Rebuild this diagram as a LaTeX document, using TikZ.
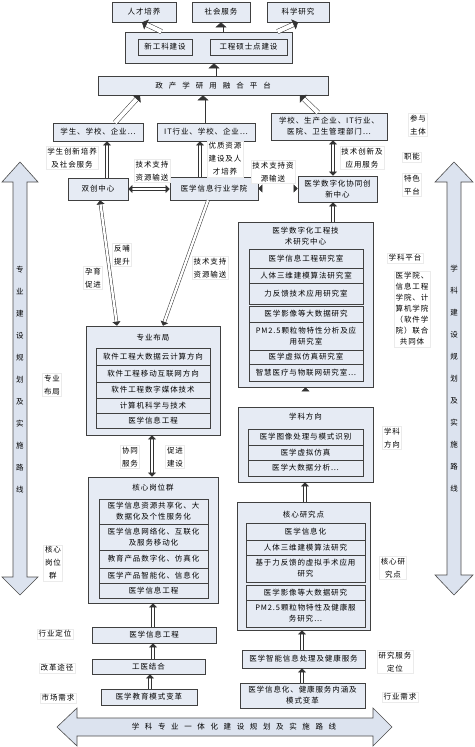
\documentclass[tikz,border=0pt]{standalone}
\usepackage{fontspec}
\setmainfont{Noto Sans CJK SC}[LetterSpace=12]
\usetikzlibrary{arrows.meta}

\definecolor{boxfill}{HTML}{E6EBF4}
\definecolor{arrowfill}{HTML}{DCE3EF}

\begin{document}
\begin{tikzpicture}
[x=1pt,y=-1pt,
  box/.style={draw=black!75,fill=boxfill,line width=0.7pt,inner sep=0pt,align=center},%
  rowbox/.style={draw=black!75,fill=boxfill,line width=0.5pt,inner sep=0pt,align=center,minimum width=#1},%
  lbl/.style={draw=black!8,fill=white,inner sep=1.5pt,align=center,font=\fontsize{7.5}{13}\selectfont},%
  hollow/.style={draw=black!80,line width=0.5pt,double=white,double distance=2.4pt,-{Triangle[length=4pt,width=8pt]}},%
  dhollow/.style={hollow,{Triangle[length=4pt,width=8pt]}-{Triangle[length=4pt,width=8pt]}},%
  bighollow/.style={hollow,double distance=4pt,-{Triangle[length=5pt,width=11pt]}},%
  bigarrow/.style={draw=black!70,fill=arrowfill,line width=0.6pt}]
\fontsize{7.5}{11}\selectfont
\useasboundingbox (0,0) rectangle (474,747);

%% big arrows (planning routes)
\draw[bigarrow] (20,162) -- (38,182) -- (27,182) -- (27,577) -- (38,577) -- (20,595)
  -- (2,577) -- (13,577) -- (13,182) -- (2,182) -- cycle;
\draw[bigarrow] (454,162) -- (473,182) -- (461,182) -- (461,575) -- (473,575) -- (454,595)
  -- (435,575) -- (447,575) -- (447,182) -- (435,182) -- cycle;
\draw[bigarrow] (57,727) -- (77,708) -- (77,718) -- (373,718) -- (373,708) -- (392,727)
  -- (373,746) -- (373,736) -- (77,736) -- (77,746) -- cycle;
\node[align=center,font=\fontsize{7.5}{22}\selectfont] (zyroute) at (20,380)
  {专\\业\\建\\设\\规\\划\\及\\实\\施\\路\\线};
\node[align=center,font=\fontsize{7.5}{22}\selectfont] (xkroute) at (454,379)
  {学\\科\\建\\设\\规\\划\\及\\实\\施\\路\\线};
\node (yitiroute) at (234,727) {\addfontfeature{LetterSpace=75}学科专业一体化建设规划及实施路线};

%% top: goals and platform
\node[box,minimum width=64,minimum height=20] (rc) at (144,12) {人才培养};
\node[box,minimum width=58,minimum height=20] (sf) at (221,12) {社会服务};
\node[box,minimum width=62,minimum height=20] (ky) at (298,12) {科学研究};
\node[box,minimum width=167,minimum height=31] (js) at (208.5,47.5) {};
\node[box,minimum width=54,minimum height=16] (xgk) at (165,47) {新工科建设};
\node[box,minimum width=77,minimum height=16] (gcs) at (248.5,47) {工程硕士点建设};
\node[box,minimum width=230,minimum height=19] (plat) at (213,85.5)
  {\addfontfeature{LetterSpace=80}政产学研用融合平台};

%% participants
\node[box,minimum width=90,minimum height=18] (p1) at (98,132) {学生、学校、企业…};
\node[box,minimum width=98,minimum height=18] (p2) at (206,132) {IT行业、学校、企业…};
\node[box,minimum width=116,minimum height=27] (p3) at (329,126.5)
  {学校、生产企业、IT行业、\\医院、卫生管理部门…};

%% centres
\node[box,minimum width=60,minimum height=22] (sc) at (98,189) {双创中心};
\node[box,minimum width=88,minimum height=23] (hy) at (214,188.5) {医学信息行业学院};
\node[box,minimum width=79,minimum height=26] (xt) at (337.5,189) {医学数字化协同创\\新中心};

%% specialty layout
\node[box,minimum width=134,minimum height=109] (zy) at (153,380.5) {};
\node (zyt) at (153,338) {专业布局};
\foreach \n/\y/\h/\txt in {1/356.5/17/软件工程大数据云计算方向, 2/373.5/17/软件工程移动互联网方向,
  3/390/16/软件工程数字媒体技术, 4/405.5/15/计算机科学与技术, 5/420.5/15/医学信息工程}
{
  \node[rowbox=114,minimum height=\h] (zy\n) at (153,\y) {\txt};
}

%% core posts
\node[box,minimum width=130,minimum height=126] (gw) at (153,540) {};
\node (gwt) at (153,488) {核心岗位群};
\foreach \n/\y/\h/\txt in {1/511.5/25/{医学信息资源共享化、大\\数据化及个性服务化},
  2/537/26/{医学信息网络化、互联化\\及服务移动化}, 3/559/18/教育产品数字化、仿真化,
  4/575.5/15/医学产品智能化、信息化, 5/590.5/15/医学信息工程}
{
  \node[rowbox=109,minimum height=\h] (gw\n) at (153.5,\y) {\txt};
}

%% bottom left
\node[box,minimum width=124,minimum height=16] (b1) at (154,635) {医学信息工程};
\node[box,minimum width=113,minimum height=15] (b2) at (148.5,666.5) {工医结合};
\node[box,minimum width=96,minimum height=16] (b3) at (149,697) {医学教育模式变革};

%% research centre
\node[box,minimum width=135,minimum height=165] (yj) at (305.5,304.5) {};
\node[align=center] (yjt) at (305.5,236) {医学数字化工程技\\术研究中心};
\foreach \n/\y/\h/\txt in {1/258.5/19/医学信息工程研究室, 2/275.5/15/人体三维建模算法研究室,
  3/293.5/21/力反馈技术应用研究室, 4/314/16/医学影像等大数据研究,
  5/336/28/{PM2.5颗粒物特性分析及应\\用研究室}, 6/357/14/医学虚拟仿真研究室,
  7/372.5/17/智慧医疗与物联网研究室…}
{
  \node[rowbox=114,minimum height=\h] (yj\n) at (306,\y) {\txt};
}

%% discipline directions
\node[box,minimum width=135,minimum height=75] (fx) at (305.5,444.5) {};
\node (fxt) at (305.5,417) {学科方向};
\foreach \n/\y/\h/\txt in {1/437/16/医学图像处理与模式识别, 2/452.5/15/医学虚拟仿真, 3/468/16/医学大数据分析…}
{
  \node[rowbox=115,minimum height=\h] (fx\n) at (305.5,\y) {\txt};
}

%% core research points
\node[box,minimum width=133,minimum height=128] (yd) at (303.5,566) {};
\node (ydt) at (303.5,515) {核心研究点};
\foreach \n/\y/\h/\txt in {1/531.5/17/医学信息化, 2/547.5/15/人体三维建模算法研究,
  3/568.5/27/{基于力反馈的虚拟手术应用\\研究}, 4/592.5/15/医学影像等大数据研究,
  5/613.5/27/{PM2.5颗粒物特性及健康服\\务研究…}}
{
  \node[rowbox=119,minimum height=\h] (yd\n) at (305.5,\y) {\txt};
}

%% bottom right
\node[box,minimum width=123,minimum height=18] (zn) at (303.5,659) {医学智能信息处理及健康服务};
\node[box,minimum width=125,minimum height=25] (ms) at (302.5,695.5) {医学信息化、健康服务内涵及\\模式变革};

%% side labels
\node[lbl] (l1) at (72,158) {学生创新培养\\及社会服务};
\node[lbl] (l2) at (152,171) {技术支持\\资源输送};
\node[lbl] (l3) at (225,159) {优质资源\\建设及人\\才培养};
\node[lbl] (l4) at (273,172) {技术支持资\\源输送};
\node[lbl] (l5) at (362,158) {技术创新及\\应用服务};
\node[lbl] (l6) at (418,125) {参与\\主体};
\node[lbl] (l7) at (412,157) {职能};
\node[lbl] (l8) at (412,185) {特色\\平台};
\node[lbl] (l9) at (122,255) {反哺\\提升};
\node[lbl] (l10) at (93,278) {孕育\\促进};
\node[lbl] (l11) at (210,268) {技术支持\\资源输送};
\node[lbl] (l12) at (52,385) {专业\\布局};
\node[lbl] (l13) at (130,457) {协同\\服务};
\node[lbl] (l14) at (175,457) {促进\\建设};
\node[lbl] (l15) at (53,563) {核心\\岗位\\群};
\node[lbl] (l16) at (55,634) {行业定位};
\node[lbl] (l17) at (57,668) {改革途径};
\node[lbl] (l18) at (58,698) {市场需求};
\node[lbl] (l19) at (405,258) {学科平台};
\node[lbl,font=\fontsize{7.5}{11}\selectfont] (l20) at (412,309)
  {医学院、\\信息工程\\学院、计\\算机学院\\（软件学\\院）联合\\共同体};
\node[lbl] (l21) at (392,438) {学科\\方向};
\node[lbl] (l22) at (393,568) {核心研\\究点};
\node[lbl] (l23) at (395,662) {研究服务\\定位};
\node[lbl] (l24) at (400,697) {行业需求};

%% connectors
\draw[bighollow] ([xshift=-47]js.north) -- ([xshift=-2]rc.south);
\draw[bighollow] (sf.south |- js.north) -- (sf.south);
\draw[bighollow] ([xshift=69]js.north) -- (ky.south);
\draw[bighollow] ([xshift=1]plat.north) -- ([xshift=1]plat.north |- js.south);
\draw[bighollow] ([xshift=17]p1.north) -- ([xshift=-73]plat.south);
\draw[bighollow] ([xshift=-3]p2.north) -- ([xshift=-3]p2.north |- plat.south);
\draw[bighollow] ([xshift=-11]p3.north) -- ([xshift=87]plat.south);
\draw[hollow] ([xshift=9]sc.north) -- ([xshift=9]sc.north |- p1.south);
\draw[hollow] ([xshift=-14]hy.north) -- ([xshift=-14]hy.north |- p2.south);
\draw[dhollow] (sc.east) -- (sc.east -| hy.west);
\draw[dhollow] (hy.east) -- (hy.east -| xt.west);
\draw[dhollow] ([xshift=-4.5]xt.north) -- ([xshift=-4.5]xt.north |- p3.south);
\draw[hollow] ([xshift=27.5]yj.north) -- ([xshift=27.5]yj.north |- xt.south);
\draw[dhollow] ([xshift=2]sc.south) -- ([xshift=-36]zy.north);
\draw[hollow] ([xshift=-6]hy.south) -- ([xshift=10]zy.north);
\draw[dhollow] ([xshift=-1]zy.south) -- ([xshift=-1]zy.south |- gw.north);
\draw[hollow] ([xshift=-1]b1.north) -- ([xshift=-1]b1.north |- gw.south);
\draw[hollow] ([xshift=4.5]b2.north) -- ([xshift=4.5]b2.north |- b1.south);
\draw[hollow] ([xshift=1]b3.north) -- ([xshift=1]b3.north |- b2.south);
\draw[hollow] (fx.north) -- (fx.north |- yj.south);
\draw[hollow] ([xshift=1.5]yd.north) -- ([xshift=1.5]yd.north |- fx.south);
\draw[hollow] ([xshift=-1.5]zn.north) -- ([xshift=-1.5]zn.north |- yd.south);
\draw[hollow] ([xshift=-0.5]ms.north) -- ([xshift=-0.5]ms.north |- zn.south);
\end{tikzpicture}
\end{document}
